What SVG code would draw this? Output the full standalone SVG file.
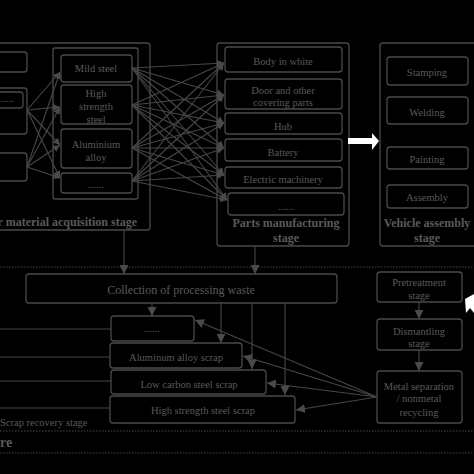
<svg xmlns="http://www.w3.org/2000/svg" width="474" height="474" viewBox="0 0 474 474">
<defs>
<style>
.bx{fill:none;stroke:#4a4a4a;stroke-width:1.3}
.t{font-family:"Liberation Serif",serif;font-size:10.5px;fill:#5a5a5a;text-anchor:middle}
.b{font-family:"Liberation Serif",serif;font-size:12px;font-weight:bold;fill:#5a5a5a;text-anchor:middle}
.ln{fill:none;stroke:#474747;stroke-width:1.1}
.dt{fill:none;stroke:#4a4a4a;stroke-width:1.2;stroke-dasharray:1.5 1.5}
</style>
<marker id="ah" viewBox="0 0 10 10" refX="10" refY="5" markerWidth="7" markerHeight="7" markerUnits="userSpaceOnUse" orient="auto">
<path d="M0,0 L10,5 L0,10 z" fill="#4a4a4a"/>
</marker>
<marker id="ah2" viewBox="0 0 10 10" refX="10" refY="5" markerWidth="9" markerHeight="9" markerUnits="userSpaceOnUse" orient="auto">
<path d="M0,0 L10,5 L0,10 z" fill="#4a4a4a"/>
</marker>
</defs>
<rect width="474" height="474" fill="#000"/>

<g id="stage-dividers">
<line class="dt" x1="0" y1="267" x2="474" y2="267"/>
<line class="dt" x1="0" y1="431" x2="474" y2="431"/>
<line class="dt" x1="0" y1="453" x2="474" y2="453"/>
</g>

<g id="material-stage">
<rect class="bx" x="-6" y="43" width="156" height="187" rx="3"/>
<rect class="bx" x="53" y="48" width="85" height="151" rx="2"/>
<text class="b" x="137" y="226" style="text-anchor:end">r material acquisition stage</text>
</g>
<g id="left-box-1"><rect class="bx" x="-6" y="52" width="33" height="20" rx="3"/></g>
<g id="left-box-2"><rect class="bx" x="-6" y="88" width="33" height="46" rx="3"/><rect class="bx" x="-6" y="92" width="29" height="16" rx="3"/><text class="t" x="6" y="102">......</text></g>
<g id="left-box-3"><rect class="bx" x="-6" y="153" width="33" height="28" rx="3"/></g>
<g id="mild-steel"><rect class="bx" x="61" y="55" width="71" height="27" rx="3"/><text class="t" x="96" y="72">Mild steel</text></g>
<g id="high-strength-steel"><rect class="bx" x="61" y="85" width="71" height="39" rx="3"/><text class="t" x="96" y="96.5">High</text><text class="t" x="96" y="110">strength</text><text class="t" x="96" y="122.5">steel</text></g>
<g id="aluminium-alloy"><rect class="bx" x="61" y="129" width="71" height="39" rx="3"/><text class="t" x="96" y="147.5">Aluminium</text><text class="t" x="96" y="160.5">alloy</text></g>
<g id="material-more"><rect class="bx" x="61" y="173" width="71" height="20" rx="3"/><text class="t" x="96" y="188">......</text></g>

<g id="parts-stage">
<rect class="bx" x="217" y="43" width="132" height="203" rx="3"/>
<text class="b" x="286" y="227">Parts manufacturing</text>
<text class="b" x="286" y="242">stage</text>
</g>
<g id="body-in-white"><rect class="bx" x="225" y="47" width="117" height="25" rx="3"/><text class="t" x="283" y="64.5">Body in white</text></g>
<g id="door"><rect class="bx" x="225" y="79" width="117" height="30" rx="3"/><text class="t" x="283" y="93.5">Door and other</text><text class="t" x="283" y="105.5">covering parts</text></g>
<g id="hub"><rect class="bx" x="225" y="113" width="117" height="21" rx="3"/><text class="t" x="283" y="129.5">Hub</text></g>
<g id="battery"><rect class="bx" x="225" y="139" width="117" height="22" rx="3"/><text class="t" x="283" y="155.5">Battery</text></g>
<g id="electric-machinery"><rect class="bx" x="225" y="167" width="117" height="21" rx="3"/><text class="t" x="283" y="182.5">Electric machinery</text></g>
<g id="parts-more"><rect class="bx" x="228" y="193" width="116" height="22" rx="3"/><text class="t" x="286" y="210">......</text></g>

<g id="vehicle-stage">
<rect class="bx" x="380" y="43" width="100" height="203" rx="3"/>
<text class="b" x="427" y="227">Vehicle assembly</text>
<text class="b" x="427" y="242">stage</text>
</g>
<g id="stamping"><rect class="bx" x="387" y="57" width="81" height="28" rx="3"/><text class="t" x="427" y="75.5">Stamping</text></g>
<g id="welding"><rect class="bx" x="387" y="97" width="81" height="27" rx="3"/><text class="t" x="427" y="115.5">Welding</text></g>
<g id="painting"><rect class="bx" x="387" y="147" width="81" height="22" rx="3"/><text class="t" x="427" y="162.5">Painting</text></g>
<g id="assembly"><rect class="bx" x="387" y="185" width="81" height="23" rx="3"/><text class="t" x="427" y="200.5">Assembly</text></g>

<g id="collection"><rect class="bx" x="26" y="274" width="311" height="29" rx="3"/><text class="t" x="181" y="294" style="font-size:12px">Collection of processing waste</text></g>
<g id="scrap-more"><rect class="bx" x="111" y="316" width="83" height="25" rx="3"/><text class="t" x="152" y="332">......</text></g>
<g id="aluminum-scrap"><rect class="bx" x="110" y="343" width="132" height="25" rx="3"/><text class="t" x="176" y="360.5">Aluminum alloy scrap</text></g>
<g id="low-carbon-scrap"><rect class="bx" x="111" y="370" width="155" height="24" rx="3"/><text class="t" x="189" y="387.5">Low carbon steel scrap</text></g>
<g id="high-strength-scrap"><rect class="bx" x="110" y="396" width="185" height="27" rx="3"/><text class="t" x="203" y="413.5">High strength steel scrap</text></g>
<g id="scrap-stage-label"><text class="t" x="0" y="426" style="text-anchor:start">Scrap recovery stage</text></g>
<g id="bottom-label"><text class="b" x="0" y="447" style="text-anchor:start;font-size:14px">re</text></g>

<g id="pretreatment"><rect class="bx" x="377" y="272" width="85" height="30" rx="3"/><text class="t" x="419" y="286">Pretreatment</text><text class="t" x="419" y="298.5">stage</text></g>
<g id="dismantling"><rect class="bx" x="377" y="319" width="85" height="31" rx="3"/><text class="t" x="419" y="334.5">Dismantling</text><text class="t" x="419" y="346.5">stage</text></g>
<g id="metal-separation"><rect class="bx" x="377" y="371" width="85" height="52" rx="3"/><text class="t" x="419" y="389.5">Metal separation</text><text class="t" x="419" y="401.5">/ nonmetal</text><text class="t" x="419" y="415.5">recycling</text></g>

<g id="connectors">
<g class="ln" marker-end="url(#ah)">
<line x1="27" y1="110" x2="60" y2="72"/>
<line x1="27" y1="110" x2="60" y2="107"/>
<line x1="27" y1="110" x2="60" y2="145"/>
<line x1="27" y1="110" x2="60" y2="178"/>
<line x1="27" y1="167" x2="60" y2="72"/>
<line x1="27" y1="167" x2="60" y2="107"/>
<line x1="27" y1="167" x2="60" y2="145"/>
<line x1="27" y1="167" x2="60" y2="178"/>
</g>
<g class="ln" marker-end="url(#ah)">
<line x1="132" y1="68" x2="224" y2="63"/>
<line x1="132" y1="68" x2="224" y2="95"/>
<line x1="132" y1="68" x2="224" y2="123"/>
<line x1="132" y1="68" x2="224" y2="148"/>
<line x1="132" y1="68" x2="224" y2="175"/>
<line x1="132" y1="68" x2="227" y2="200"/>
<line x1="132" y1="105" x2="224" y2="63"/>
<line x1="132" y1="105" x2="224" y2="95"/>
<line x1="132" y1="105" x2="224" y2="123"/>
<line x1="132" y1="105" x2="224" y2="148"/>
<line x1="132" y1="105" x2="224" y2="175"/>
<line x1="132" y1="105" x2="227" y2="200"/>
<line x1="132" y1="148" x2="224" y2="63"/>
<line x1="132" y1="148" x2="224" y2="95"/>
<line x1="132" y1="148" x2="224" y2="123"/>
<line x1="132" y1="148" x2="224" y2="148"/>
<line x1="132" y1="148" x2="224" y2="175"/>
<line x1="132" y1="148" x2="227" y2="200"/>
<line x1="132" y1="181" x2="224" y2="63"/>
<line x1="132" y1="181" x2="224" y2="95"/>
<line x1="132" y1="181" x2="224" y2="123"/>
<line x1="132" y1="181" x2="224" y2="148"/>
<line x1="132" y1="181" x2="224" y2="175"/>
<line x1="132" y1="181" x2="227" y2="200"/>
</g>
<g class="ln" marker-end="url(#ah2)">
<line x1="124" y1="230" x2="124" y2="274"/>
<line x1="255" y1="246" x2="255" y2="274"/>
<line x1="152" y1="303" x2="152" y2="316"/>
<line x1="221" y1="303" x2="221" y2="343"/>
<line x1="252" y1="303" x2="252" y2="369"/>
<line x1="285" y1="303" x2="285" y2="395"/>
<line x1="419" y1="302" x2="419" y2="319"/>
<line x1="419" y1="350" x2="419" y2="371"/>
<line x1="377" y1="397" x2="195" y2="320"/>
<line x1="377" y1="397" x2="243" y2="356"/>
<line x1="377" y1="397" x2="267" y2="383"/>
<line x1="377" y1="397" x2="296" y2="410"/>
</g>
<g class="ln">
<line x1="0" y1="329" x2="111" y2="329"/>
<line x1="0" y1="357" x2="110" y2="357"/>
<line x1="0" y1="381" x2="111" y2="381"/>
<line x1="0" y1="408" x2="110" y2="408"/>
</g>
<polygon points="348,138 372,138 372,133 379,141 372,150 372,144 348,144" fill="#fff"/>
<polygon points="465,299 474,294 474,313 470,308 466,313" fill="#fff"/>
</g>
</svg>
